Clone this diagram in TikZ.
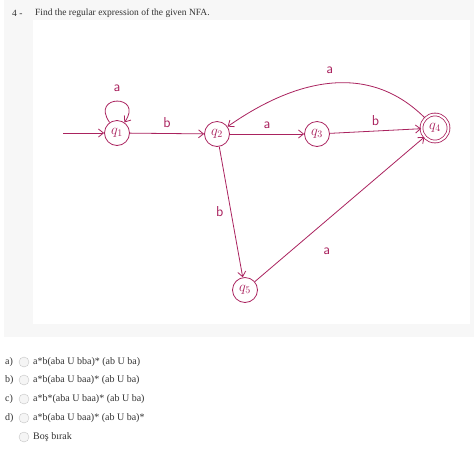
\documentclass[tikz,border=0pt]{standalone}
\usepackage{fontspec}
\setmainfont{Liberation Serif}
\usetikzlibrary{arrows.meta}

\definecolor{ink}{RGB}{170,35,95}
\definecolor{panel}{RGB}{247,247,247}

\tikzset{
  st/.style={circle,draw=ink,thick,minimum size=25pt,inner sep=0pt,text=ink,font=\sffamily\Large},
  fin/.style={st,double,double distance=2pt,minimum size=27pt},
  tr/.style={draw=ink,thick,-{Straight Barb[length=5pt,width=8pt]}},
  lb/.style={text=ink,font=\sffamily\Large},
  choice/.style={anchor=west,inner sep=1pt,font=\fontsize{10}{12}\selectfont,text=black!80},
  radio/.style={circle,draw=gray!45,fill=gray!8,minimum size=10pt,inner sep=0pt},
}

\begin{document}
\begin{tikzpicture}[x=1pt,y=-1pt]
  %背景
  \fill[white] (0,0) rectangle (474,451);
  \useasboundingbox (0,0) rectangle (474,451);
  \fill[panel] (4,0) rectangle (474,337);
  \fill[white] (33,20) rectangle (470,324);

  %問題文
  \node[choice,font=\fontsize{9.5}{11}\selectfont] (num) at (11,13) {4 -};
  \node[choice,font=\fontsize{9.5}{11}\selectfont] (title) at (34,13) {Find the regular expression of the given NFA.};

  %状態
  \node[st] (q1) at (117,133) {$q_1$};
  \node[st] (q2) at (217,134) {$q_2$};
  \node[st] (q3) at (317,134) {$q_3$};
  \node[fin] (q4) at (435,128) {$q_4$};
  \node[st] (q5) at (245,290) {$q_5$};
  \coordinate (start) at (63,133);

  %遷移
  \draw[tr] (start) -- (q1);
  \draw[tr] (q1) to[out=125,in=55,looseness=6] node[lb,above=6pt] {a} (q1);
  \draw[tr] (q1) -- node[lb,above=2pt] {b} (q2);
  \draw[tr] (q2) -- node[lb,above=2pt] {a} (q3);
  \draw[tr] (q3) -- node[lb,above=2pt] {b} (q4);
  \draw[tr] (q4) to[out=135,in=35,looseness=1.05] node[lb,above=6pt] {a} (q2);
  \draw[tr] (q2) -- node[lb,left=4pt] {b} (q5);
  \draw[tr] (q5) -- node[lb,pos=0.4,below=20pt,xshift=4pt] {a} (q4);

  %選択肢
  \foreach \i/\y/\t in {a/362/{a*b(aba U bba)* (ab U ba)},
                        b/380/{a*b(aba U baa)* (ab U ba)},
                        c/399/{a*b*(aba U baa)* (ab U ba)},
                        d/418/{a*b(aba U baa)* (ab U ba)*}} {
    \node[choice] (key-\i) at (4,\y) {\i)};
    \node[radio] (rb-\i) at (24,\y) {};
    \node[choice] (ans-\i) at (32,\y) {\t};
  }
  \node[radio] (rb-e) at (24,437) {};
  \node[choice] (ans-e) at (32,437) {Boş bırak};
\end{tikzpicture}
\end{document}
